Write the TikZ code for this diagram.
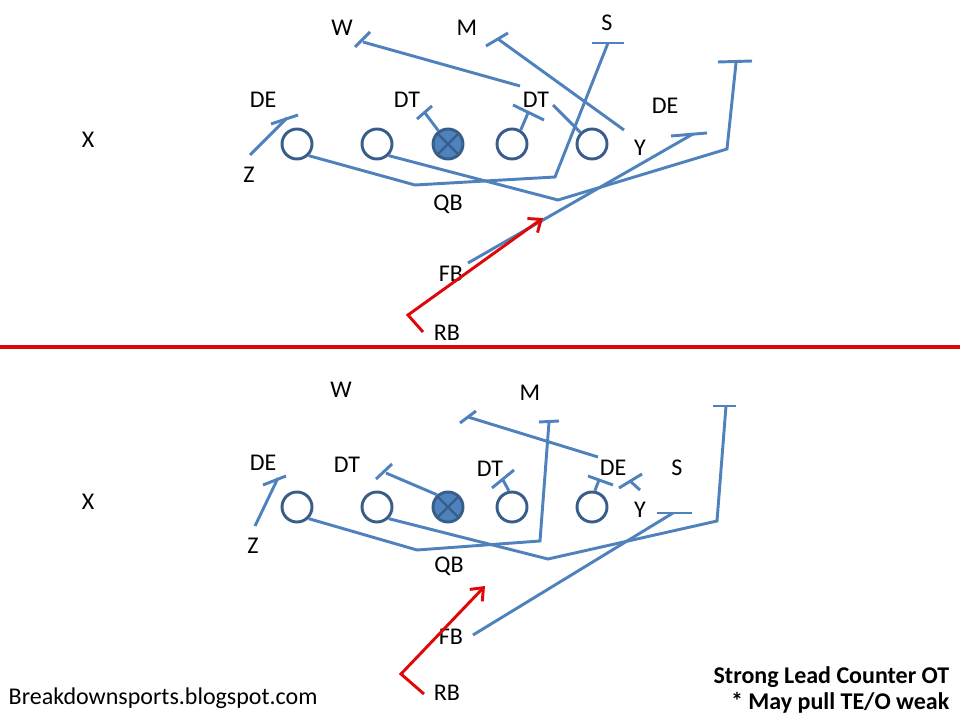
\documentclass[tikz,border=0pt]{standalone}
\usepackage{fontspec}
\setmainfont{Carlito}
\usetikzlibrary{arrows.meta}
\definecolor{routeblue}{RGB}{79,129,189}
\definecolor{linedark}{RGB}{56,93,138}
\definecolor{leadred}{RGB}{222,8,8}

\begin{document}
\begin{tikzpicture}[
  x=0.75pt, y=-0.75pt,
  every node/.style={font=\fontsize{18}{20}\selectfont},
  lineman/.style={circle, draw=linedark, line width=2.2pt, minimum size=22.5pt, inner sep=0pt},
  snapper/.style={lineman, fill=routeblue,
    path picture={\draw[linedark, line width=1.6pt]
      (path picture bounding box.south west) -- (path picture bounding box.north east)
      (path picture bounding box.north west) -- (path picture bounding box.south east);}},
  route/.style={routeblue, line width=2.2pt},
  lead/.style={leadred, line width=2.2pt, -{Straight Barb[length=8pt, width=13pt]}}
]
\useasboundingbox (0,0) rectangle (960,720);

% top play
\node[lineman] (lt) at (297,144) {};
\node[lineman] (lg) at (377,144) {};
\node[snapper] (c) at (448,144) {};
\node[lineman] (rg) at (512,144) {};
\node[lineman] (rt) at (592,144) {};

\node (x) at (88,140) {X};
\node (z) at (249,175) {Z};
\node (y) at (640,148) {Y};
\node (qb) at (448,204) {QB};
\node (fb) at (451,274) {FB};
\node (rb) at (447,333) {RB};
\node (w) at (342,28) {W};
\node (m) at (467,28) {M};
\node (s) at (607,23) {S};
\node (del) at (263,100) {DE};
\node (dtl) at (407,100) {DT};
\node (dtr) at (536,100) {DT};
\node (der) at (665,106) {DE};

\coordinate (zS) at (250,155);
\coordinate (zE) at (287,118);
\coordinate (wE) at (363,42);
\coordinate (wS) at (520,86);
\coordinate (mE) at (498,39);
\coordinate (mS) at (624,130);
\coordinate (sE) at (608,43);
\coordinate (deE) at (736,63);
\coordinate (fbS) at (468,263);
\coordinate (fbE) at (693,134);
\coordinate (dtlE) at (425,113);
\coordinate (dtrE) at (528,113);
\coordinate (rtE) at (553,105);
\coordinate (rbS) at (423,332);
\coordinate (rbK) at (408,315);
\coordinate (rbE) at (543,218);

\draw[route] (zS) -- (zE);
\draw[route] (271,124) -- (298,115);
\draw[route] (wS) -- (wE);
\draw[route] (355,47) -- (370,32);
\draw[route] (mS) -- (mE);
\draw[route] (486,46) -- (508,33);
\draw[route] (lt.-45) -- (415,185) -- (555,177) -- (sE);
\draw[route] (592,43) -- (624,43);
\draw[route] (lg.-45) -- (558,200) -- (727,149) -- (deE);
\draw[route] (718,62) -- (752,61);
\draw[route] (fbS) -- (fbE);
\draw[route] (671,136) -- (707,133);
\draw[route] (c.126) -- (dtlE);
\draw[route] (417,119) -- (432,106);
\draw[route] (rg.58) -- (dtrE);
\draw[route] (513,105) -- (544,120);
\draw[route] (rt.135) -- (rtE);
\draw[lead] (rbS) -- (rbK) -- (rbE);

\draw[leadred, line width=2.4pt] (0,347) -- (960,347);

% bottom play
\node[lineman] (lt2) at (297,507) {};
\node[lineman] (lg2) at (377,507) {};
\node[snapper] (c2) at (448,507) {};
\node[lineman] (rg2) at (512,507) {};
\node[lineman] (rt2) at (592,507) {};

\node (x2) at (88,502) {X};
\node (z2) at (253,546) {Z};
\node (y2) at (640,510) {Y};
\node (qb2) at (449,566) {QB};
\node (fb2) at (451,637) {FB};
\node (rb2) at (447,693) {RB};
\node (w2) at (341,390) {W};
\node (m2) at (530,393) {M};
\node (s2) at (677,468) {S};
\node (del2) at (263,463) {DE};
\node (dtl2) at (347,465) {DT};
\node (dtr2) at (490,469) {DT};
\node (der2) at (613,468) {DE};

\coordinate (zS2) at (255,526);
\coordinate (zE2) at (278,478);
\coordinate (mE2) at (468,417);
\coordinate (mS2) at (598,457);
\coordinate (lbE2) at (549,422);
\coordinate (deE2) at (726,406);
\coordinate (fbS2) at (473,635);
\coordinate (fbE2) at (673,513);
\coordinate (dtlE2) at (386,473);
\coordinate (dtrE2) at (503,480);
\coordinate (rtE2) at (599,480);
\coordinate (yS2) at (640,490);
\coordinate (yE2) at (630,481);
\coordinate (rbS2) at (424,694);
\coordinate (rbK2) at (401,674);
\coordinate (rbE2) at (485,586);

\draw[route] (zS2) -- (zE2);
\draw[route] (263,485) -- (286,476);
\draw[route] (mS2) -- (mE2);
\draw[route] (460,423) -- (476,411);
\draw[route] (lt2.-45) -- (417,550) -- (540,541) -- (lbE2);
\draw[route] (539,422) -- (559,421);
\draw[route] (lg2.-45) -- (548,559) -- (717,521) -- (deE2);
\draw[route] (713,406) -- (736,406);
\draw[route] (fbS2) -- (fbE2);
\draw[route] (657,513) -- (692,513);
\draw[route] (c2.132) -- (dtlE2);
\draw[route] (376,479) -- (392,464);
\draw[route] (rg2.101) -- (dtrE2);
\draw[route] (492,488) -- (514,470);
\draw[route] (rt2.80) -- (rtE2);
\draw[route] (588,476) -- (613,485);
\draw[route] (yS2) -- (yE2);
\draw[route] (619,488) -- (642,474);
\draw[lead] (rbS2) -- (rbK2) -- (rbE2);

\node[anchor=west] (blog) at (4,698) {Breakdownsports.blogspot.com};
\node[anchor=east, align=right, font=\fontsize{18}{20}\selectfont\bfseries] (note) at (954,690)
  {Strong Lead Counter OT\\* May pull TE/O weak};
\end{tikzpicture}
\end{document}
